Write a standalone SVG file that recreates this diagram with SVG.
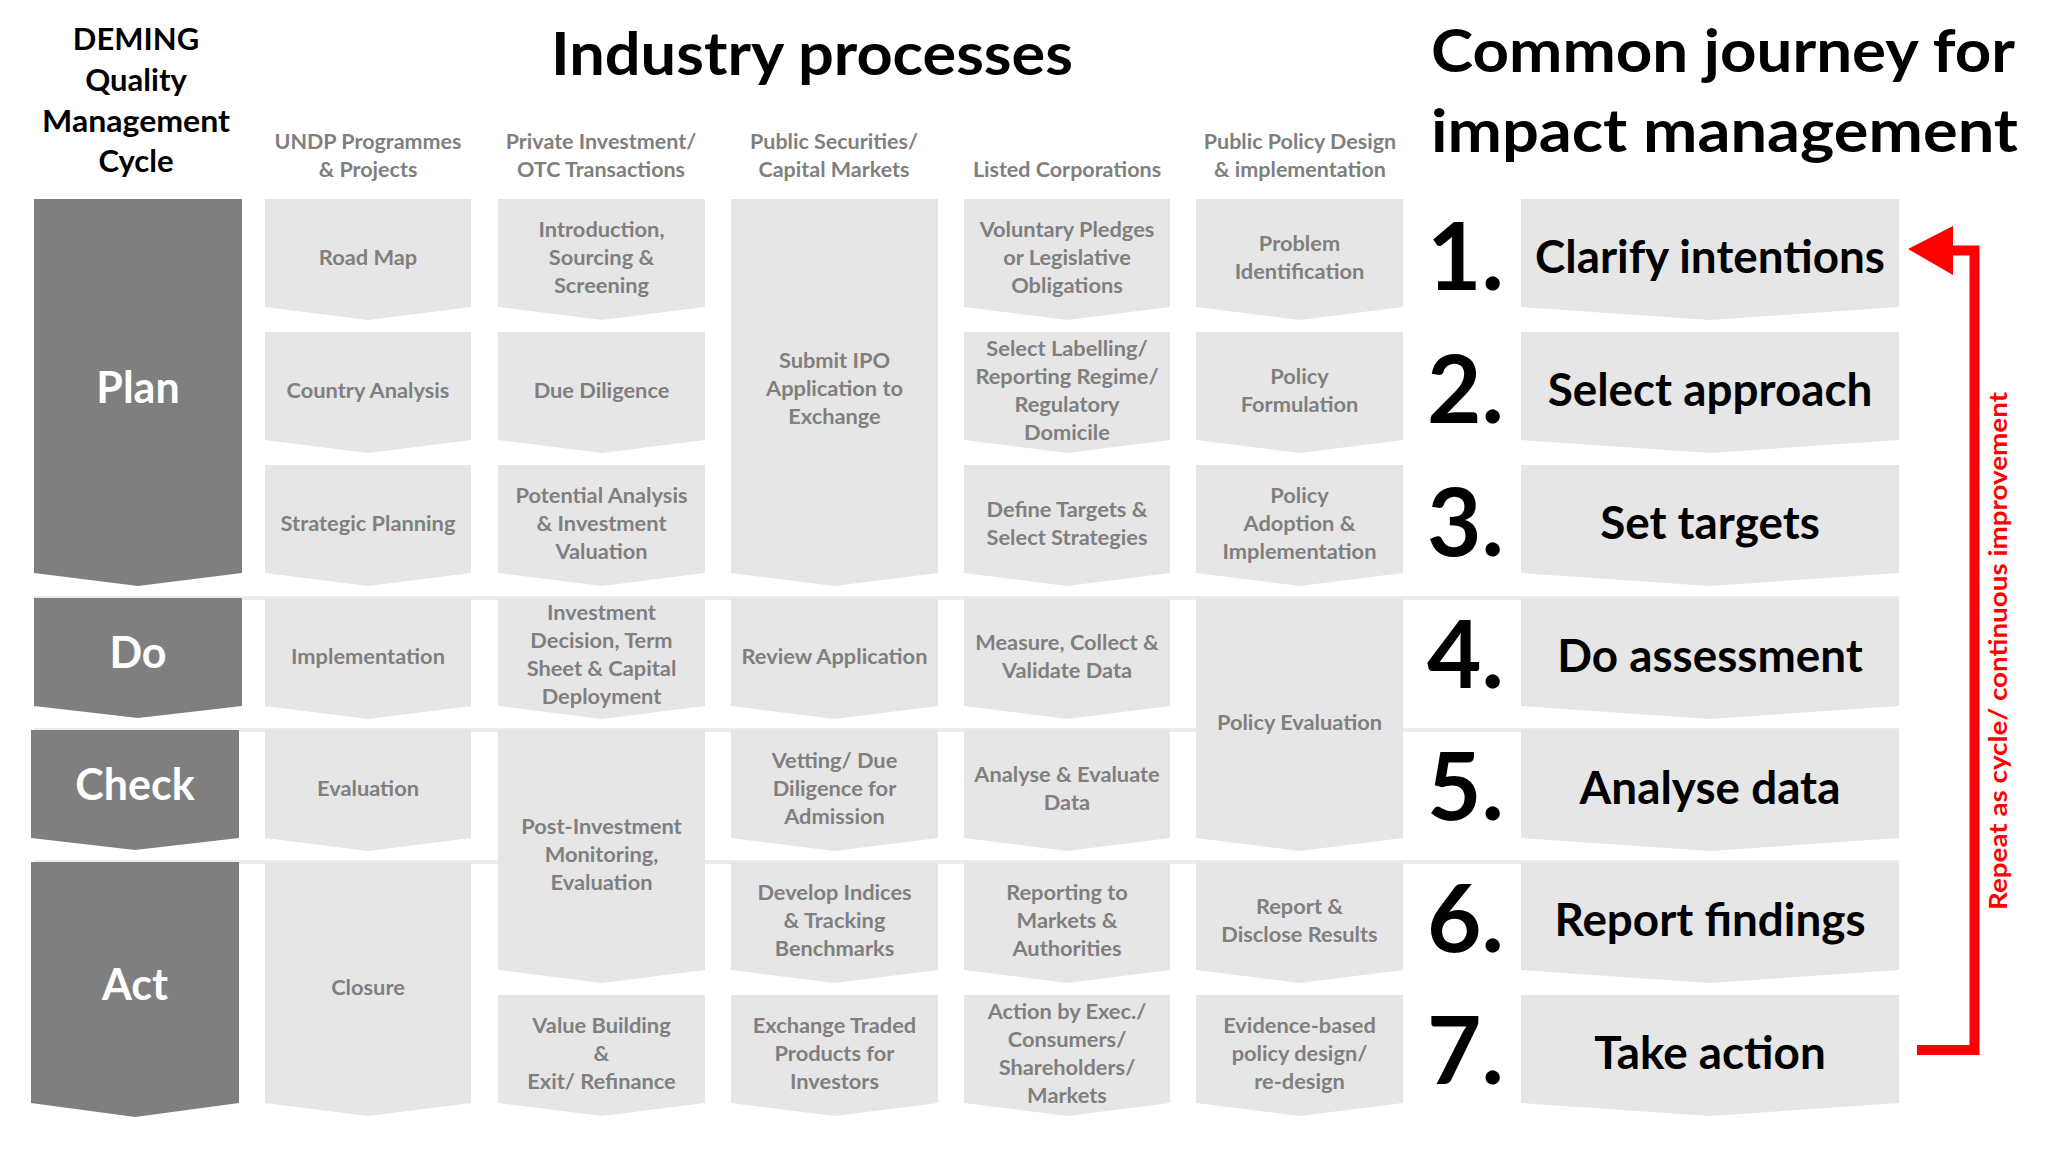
<svg xmlns="http://www.w3.org/2000/svg" width="2048" height="1152" viewBox="0 0 2048 1152">
<style>
.bg{fill:#ffffff}
.band{stroke:#ececec;stroke-width:4;fill:none}
.box{fill:#e6e6e6}
.dark{fill:#7f7f7f}
.t{font-family:Lato,"Open Sans","Liberation Sans",sans-serif;font-weight:700;font-size:21.8px;fill:#7f7f7f;text-anchor:middle}
.hd{font-family:Lato,"Open Sans","Liberation Sans",sans-serif;font-weight:700;font-size:21.5px;fill:#7f7f7f;text-anchor:middle}
.dl{font-family:Lato,"Open Sans","Liberation Sans",sans-serif;font-weight:700;font-size:43px;fill:#ffffff;text-anchor:middle}
.jt{font-family:Lato,"Open Sans","Liberation Sans",sans-serif;font-weight:700;font-size:45.8px;fill:#000000;text-anchor:middle}
.num{font-family:Lato,"Open Sans","Liberation Sans",sans-serif;font-weight:700;font-size:94px;fill:#000000}
.title{font-family:Lato,"Open Sans","Liberation Sans",sans-serif;font-weight:700;font-size:60px;fill:#000000}
.dem{font-family:Lato,"Open Sans","Liberation Sans",sans-serif;font-weight:700;font-size:31px;fill:#000000;text-anchor:middle}
.red{fill:#ff0000}
.redline{stroke:#ff0000;stroke-width:10;fill:none;stroke-linejoin:miter}
.rt{font-family:Lato,"Open Sans","Liberation Sans",sans-serif;font-weight:700;font-size:25px;fill:#ff0000;text-anchor:middle}
</style>
<rect class="bg" x="0" y="0" width="2048" height="1152"/>

<g id="bands">
<line class="band" x1="34" y1="598" x2="1899" y2="598"/>
<line class="band" x1="34" y1="730" x2="1899" y2="730"/>
<line class="band" x1="34" y1="862" x2="1899" y2="862"/>
</g>

<g id="titles">
<text class="title" x="812" y="75" text-anchor="middle" textLength="522" lengthAdjust="spacingAndGlyphs">Industry processes</text>
<text class="title" x="1431" y="72" textLength="584" lengthAdjust="spacingAndGlyphs">Common journey for</text>
<text class="title" x="1431" y="152" textLength="587" lengthAdjust="spacingAndGlyphs">impact management</text>
<text class="dem" x="136" y="50">DEMING</text>
<text class="dem" x="136" y="91">Quality</text>
<text class="dem" x="136" y="132" textLength="188" lengthAdjust="spacingAndGlyphs">Management</text>
<text class="dem" x="136" y="172">Cycle</text>
</g>

<g id="headers">
<text class="hd" x="368" y="149">UNDP Programmes</text>
<text class="hd" x="368" y="177">&amp; Projects</text>
<text class="hd" x="601" y="149">Private Investment/</text>
<text class="hd" x="601" y="177">OTC Transactions</text>
<text class="hd" x="834" y="149">Public Securities/</text>
<text class="hd" x="834" y="177">Capital Markets</text>
<text class="hd" x="1067" y="177">Listed Corporations</text>
<text class="hd" x="1300" y="149">Public Policy Design</text>
<text class="hd" x="1300" y="177">&amp; implementation</text>
</g>

<!-- Deming cycle -->
<g id="plan"><path class="dark" d="M34 199H242V573L138 586L34 573Z"/><text class="dl" x="138" y="403">Plan</text></g>
<g id="do"><path class="dark" d="M34 598H242V706L138 718L34 706Z"/><text class="dl" x="138" y="668">Do</text></g>
<g id="check"><path class="dark" d="M31 730H239V838L135 850L31 838Z"/><text class="dl" x="135" y="800">Check</text></g>
<g id="act"><path class="dark" d="M31 862H239V1103L135 1117L31 1103Z"/><text class="dl" x="135" y="1000">Act</text></g>

<!-- Column 1: UNDP -->
<g id="c1r1"><path class="box" d="M265 199H471V307L368 320L265 307Z"/><text class="t" x="368" y="264.5">Road Map</text></g>
<g id="c1r2"><path class="box" d="M265 332H471V440L368 453L265 440Z"/><text class="t" x="368" y="397.5">Country Analysis</text></g>
<g id="c1r3"><path class="box" d="M265 465H471V573L368 586L265 573Z"/><text class="t" x="368" y="530.5">Strategic Planning</text></g>
<g id="c1r4"><path class="box" d="M265 598H471V706L368 719L265 706Z"/><text class="t" x="368" y="663.5">Implementation</text></g>
<g id="c1r5"><path class="box" d="M265 730H471V838L368 851L265 838Z"/><text class="t" x="368" y="795.5">Evaluation</text></g>
<g id="c1r6"><path class="box" d="M265 862H471V1103L368 1116L265 1103Z"/><text class="t" x="368" y="994.5">Closure</text></g>

<!-- Column 2: Private Investment -->
<g id="c2r1"><path class="box" d="M498 199H705V307L601.5 320L498 307Z"/><text class="t" x="601.5" y="236.5">Introduction,<tspan x="601.5" dy="28">Sourcing &amp;</tspan><tspan x="601.5" dy="28">Screening</tspan></text></g>
<g id="c2r2"><path class="box" d="M498 332H705V440L601.5 453L498 440Z"/><text class="t" x="601.5" y="397.5">Due Diligence</text></g>
<g id="c2r3"><path class="box" d="M498 465H705V573L601.5 586L498 573Z"/><text class="t" x="601.5" y="502.5">Potential Analysis<tspan x="601.5" dy="28">&amp; Investment</tspan><tspan x="601.5" dy="28">Valuation</tspan></text></g>
<g id="c2r4"><path class="box" d="M498 598H705V706L601.5 719L498 706Z"/><text class="t" x="601.5" y="620">Investment<tspan x="601.5" dy="28">Decision, Term</tspan><tspan x="601.5" dy="28">Sheet &amp; Capital</tspan><tspan x="601.5" dy="28">Deployment</tspan></text></g>
<g id="c2r5"><path class="box" d="M498 730H705V970L601.5 983L498 970Z"/><text class="t" x="601.5" y="834">Post-Investment<tspan x="601.5" dy="28">Monitoring,</tspan><tspan x="601.5" dy="28">Evaluation</tspan></text></g>
<g id="c2r7"><path class="box" d="M498 995H705V1103L601.5 1116L498 1103Z"/><text class="t" x="601.5" y="1032.5">Value Building<tspan x="601.5" dy="28">&amp;</tspan><tspan x="601.5" dy="28">Exit/ Refinance</tspan></text></g>

<!-- Column 3: Public Securities -->
<g id="c3r1"><path class="box" d="M731 199H938V573L834.5 586L731 573Z"/><text class="t" x="834.5" y="368">Submit IPO<tspan x="834.5" dy="28">Application to</tspan><tspan x="834.5" dy="28">Exchange</tspan></text></g>
<g id="c3r4"><path class="box" d="M731 598H938V706L834.5 719L731 706Z"/><text class="t" x="834.5" y="663.5">Review Application</text></g>
<g id="c3r5"><path class="box" d="M731 730H938V838L834.5 851L731 838Z"/><text class="t" x="834.5" y="767.5">Vetting/ Due<tspan x="834.5" dy="28">Diligence for</tspan><tspan x="834.5" dy="28">Admission</tspan></text></g>
<g id="c3r6"><path class="box" d="M731 862H938V970L834.5 983L731 970Z"/><text class="t" x="834.5" y="899.5">Develop Indices<tspan x="834.5" dy="28">&amp; Tracking</tspan><tspan x="834.5" dy="28">Benchmarks</tspan></text></g>
<g id="c3r7"><path class="box" d="M731 995H938V1103L834.5 1116L731 1103Z"/><text class="t" x="834.5" y="1032.5">Exchange Traded<tspan x="834.5" dy="28">Products for</tspan><tspan x="834.5" dy="28">Investors</tspan></text></g>

<!-- Column 4: Listed Corporations -->
<g id="c4r1"><path class="box" d="M964 199H1170V307L1067 320L964 307Z"/><text class="t" x="1067" y="236.5">Voluntary Pledges<tspan x="1067" dy="28">or Legislative</tspan><tspan x="1067" dy="28">Obligations</tspan></text></g>
<g id="c4r2"><path class="box" d="M964 332H1170V440L1067 453L964 440Z"/><text class="t" x="1067" y="355.5">Select Labelling/<tspan x="1067" dy="28">Reporting Regime/</tspan><tspan x="1067" dy="28">Regulatory</tspan><tspan x="1067" dy="28">Domicile</tspan></text></g>
<g id="c4r3"><path class="box" d="M964 465H1170V573L1067 586L964 573Z"/><text class="t" x="1067" y="516.5">Define Targets &amp;<tspan x="1067" dy="28">Select Strategies</tspan></text></g>
<g id="c4r4"><path class="box" d="M964 598H1170V706L1067 719L964 706Z"/><text class="t" x="1067" y="649.5">Measure, Collect &amp;<tspan x="1067" dy="28">Validate Data</tspan></text></g>
<g id="c4r5"><path class="box" d="M964 730H1170V838L1067 851L964 838Z"/><text class="t" x="1067" y="781.5">Analyse &amp; Evaluate<tspan x="1067" dy="28">Data</tspan></text></g>
<g id="c4r6"><path class="box" d="M964 862H1170V970L1067 983L964 970Z"/><text class="t" x="1067" y="899.5">Reporting to<tspan x="1067" dy="28">Markets &amp;</tspan><tspan x="1067" dy="28">Authorities</tspan></text></g>
<g id="c4r7"><path class="box" d="M964 995H1170V1103L1067 1116L964 1103Z"/><text class="t" x="1067" y="1018.5">Action by Exec./<tspan x="1067" dy="28">Consumers/</tspan><tspan x="1067" dy="28">Shareholders/</tspan><tspan x="1067" dy="28">Markets</tspan></text></g>

<!-- Column 5: Public Policy -->
<g id="c5r1"><path class="box" d="M1196 199H1403V307L1299.5 320L1196 307Z"/><text class="t" x="1299.5" y="250.5">Problem<tspan x="1299.5" dy="28">Identification</tspan></text></g>
<g id="c5r2"><path class="box" d="M1196 332H1403V440L1299.5 453L1196 440Z"/><text class="t" x="1299.5" y="383.5">Policy<tspan x="1299.5" dy="28">Formulation</tspan></text></g>
<g id="c5r3"><path class="box" d="M1196 465H1403V573L1299.5 586L1196 573Z"/><text class="t" x="1299.5" y="502.5">Policy<tspan x="1299.5" dy="28">Adoption &amp;</tspan><tspan x="1299.5" dy="28">Implementation</tspan></text></g>
<g id="c5r4"><path class="box" d="M1196 598H1403V838L1299.5 851L1196 838Z"/><text class="t" x="1299.5" y="730">Policy Evaluation</text></g>
<g id="c5r6"><path class="box" d="M1196 862H1403V970L1299.5 983L1196 970Z"/><text class="t" x="1299.5" y="913.5">Report &amp;<tspan x="1299.5" dy="28">Disclose Results</tspan></text></g>
<g id="c5r7"><path class="box" d="M1196 995H1403V1103L1299.5 1116L1196 1103Z"/><text class="t" x="1299.5" y="1032.5">Evidence-based<tspan x="1299.5" dy="28">policy design/</tspan><tspan x="1299.5" dy="28">re-design</tspan></text></g>

<!-- Journey -->
<g id="j1"><text class="num" x="1427" y="290">1.</text><path class="box" d="M1521 199H1899V307L1710 320L1521 307Z"/><text class="jt" x="1710" y="273">Clarify intentions</text></g>
<g id="j2"><text class="num" x="1427" y="423">2.</text><path class="box" d="M1521 332H1899V440L1710 453L1521 440Z"/><text class="jt" x="1710" y="406">Select approach</text></g>
<g id="j3"><text class="num" x="1427" y="556">3.</text><path class="box" d="M1521 465H1899V573L1710 586L1521 573Z"/><text class="jt" x="1710" y="539">Set targets</text></g>
<g id="j4"><text class="num" x="1427" y="688">4.</text><path class="box" d="M1521 598H1899V706L1710 719L1521 706Z"/><text class="jt" x="1710" y="672">Do assessment</text></g>
<g id="j5"><text class="num" x="1427" y="820">5.</text><path class="box" d="M1521 730H1899V838L1710 851L1521 838Z"/><text class="jt" x="1710" y="804">Analyse data</text></g>
<g id="j6"><text class="num" x="1427" y="952">6.</text><path class="box" d="M1521 862H1899V970L1710 983L1521 970Z"/><text class="jt" x="1710" y="936">Report findings</text></g>
<g id="j7"><text class="num" x="1427" y="1084">7.</text><path class="box" d="M1521 995H1899V1103L1710 1116L1521 1103Z"/><text class="jt" x="1710" y="1069">Take action</text></g>

<g id="connectors">
<path class="redline" d="M1917 1050H1974.5V250.5H1950"/>
<polygon class="red" points="1908,249 1953,226 1953,275"/>
<text class="rt" transform="translate(2007 651) rotate(-90)" x="0" y="0" textLength="518" lengthAdjust="spacingAndGlyphs">Repeat as cycle/ continuous improvement</text>
</g>
</svg>
